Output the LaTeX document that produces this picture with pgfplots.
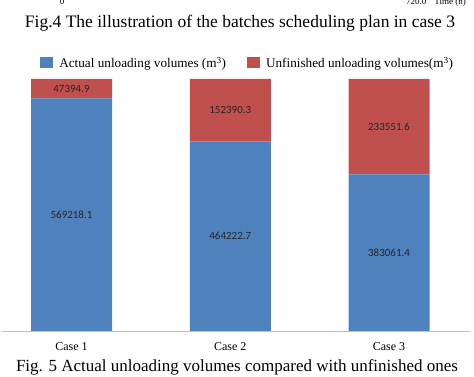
\documentclass[border=0pt]{standalone}
\usepackage{pgfplots}
\pgfplotsset{compat=1.18}
\usepackage{fontspec}
\setmainfont{Liberation Serif}
\newfontfamily\labelfont{Carlito}
\definecolor{xblue}{HTML}{4F81BD}
\definecolor{xred}{HTML}{C0504D}
\begin{document}
\begin{tikzpicture}[x=1pt,y=1pt]
\useasboundingbox (0,0) rectangle (474,377);
\node[anchor=base,inner sep=0pt,font=\fontsize{9}{10}\selectfont] at (62,372) {0};
\node[anchor=base east,inner sep=0pt,font=\fontsize{9}{10}\selectfont] at (466,372) {720.0\hspace{8pt}Time (h)};
\node[anchor=base,inner sep=0pt,font=\fontsize{17.5}{19}\selectfont] at (240,349) {Fig.4 The illustration of the batches scheduling plan in case 3};
\node[anchor=base,inner sep=0pt,font=\fontsize{17}{19}\selectfont] at (237,5) {Fig. 5 Actual unloading volumes compared with unfinished ones};
\begin{axis}[
  at={(2pt,46pt)}, anchor=south west,
  scale only axis, width=468pt, height=256pt,
  xmin=-0.4378, xmax=2.51, ymin=0, ymax=626400,
  ybar stacked, bar width=81pt,
  hide y axis,
  axis x line*=bottom,
  x axis line style={draw=black!25, line width=0.8pt},
  xtick={0,1,2}, xticklabels={Case 1,Case 2,Case 3},
  major tick length=0pt,
  xticklabel style={font=\fontsize{12}{14}\selectfont, anchor=base, yshift=-20pt},
  point meta=explicit symbolic,
  nodes near coords,
  every node near coord/.append style={anchor=center, text=black!85, font=\labelfont\fontsize{11}{12}\selectfont},
  legend columns=2,
  legend style={at={(rel axis cs:0.525,1)}, anchor=center, yshift=12pt, draw=none, fill=none,
    font=\fontsize{13.2}{14}\selectfont, /tikz/every even column/.append style={column sep=19pt}},
]
\addplot[fill=xblue, draw=none, legend image code/.code={\fill[xblue] (0pt,-5pt) rectangle (13pt,6pt); \path (17pt,0pt);}]
  coordinates {(0,569218.1) [569218.1] (1,464222.7) [464222.7] (2,383061.4) [383061.4]};
\addlegendentry{Actual unloading volumes (m\textsuperscript{3})}
\addplot[fill=xred, draw=none, legend image code/.code={\fill[xred] (0pt,-5pt) rectangle (13pt,6pt); \path (17pt,0pt);}]
  coordinates {(0,47394.9) [47394.9] (1,152390.3) [152390.3] (2,233551.6) [233551.6]};
\addlegendentry{Unfinished unloading volumes(m\textsuperscript{3})}
\end{axis}
\end{tikzpicture}
\end{document}
